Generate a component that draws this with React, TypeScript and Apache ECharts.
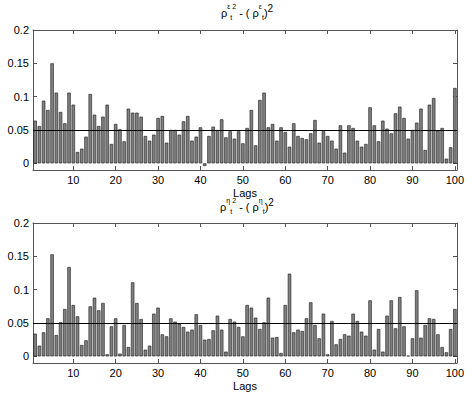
import React, { useEffect, useRef } from "react";
import * as echarts from "echarts";

const LAGS: string[] = Array.from({ length: 100 }, (_, i) => String(i + 1));
const X_TICKS: number[] = [10, 20, 30, 40, 50, 60, 70, 80, 90, 100];
const Y_TICKS: number[] = [0, 0.05, 0.1, 0.15, 0.2];
const THRESHOLD = 0.05;

const EPS_VALUES: number[] = [
  0.064, 0.056, 0.094, 0.080, 0.150, 0.106, 0.077, 0.060, 0.106, 0.088,
  0.017, 0.022, 0.040, 0.104, 0.073, 0.056, 0.070, 0.088, 0.029, 0.059,
  0.051, 0.033, 0.082, 0.076, 0.076, 0.070, 0.041, 0.034, 0.043, 0.068,
  0.071, 0.031, 0.050, 0.050, 0.043, 0.063, 0.071, 0.034, 0.040, 0.054,
  -0.004, 0.041, 0.055, 0.050, 0.066, 0.039, 0.048, 0.037, 0.048, 0.030,
  0.053, 0.080, 0.027, 0.095, 0.106, 0.054, 0.059, 0.034, 0.054, 0.047,
  0.025, 0.060, 0.041, 0.038, 0.036, 0.045, 0.065, 0.031, 0.048, 0.041,
  0.034, 0.022, 0.057, 0.016, 0.057, 0.053, 0.034, 0.025, 0.029, 0.084,
  0.057, 0.033, 0.064, 0.052, 0.045, 0.075, 0.085, 0.068, 0.037, 0.050,
  0.061, 0.082, 0.020, 0.088, 0.098, 0.049, 0.053, 0.007, 0.024, 0.113,
];

const ETA_VALUES: number[] = [
  0.034, 0.016, 0.036, 0.057, 0.153, 0.032, 0.051, 0.071, 0.134, 0.077,
  0.060, 0.017, 0.024, 0.075, 0.088, 0.069, 0.080, 0.003, 0.045, 0.057,
  0.004, 0.047, 0.014, 0.111, 0.080, 0.056, 0.010, 0.016, 0.064, 0.073,
  0.033, 0.030, 0.057, 0.052, 0.049, 0.044, 0.037, 0.040, 0.063, 0.047,
  0.025, 0.026, 0.039, 0.061, 0.040, 0.007, 0.056, 0.052, 0.044, 0.030,
  0.077, 0.073, 0.058, 0.041, 0.051, 0.088, 0.028, 0.029, 0.005, 0.077,
  0.124, 0.036, 0.040, 0.038, 0.057, 0.081, 0.047, 0.027, 0.064, 0.003,
  0.053, 0.018, 0.026, 0.033, 0.031, 0.064, 0.053, 0.037, 0.031, 0.084,
  0.010, 0.041, 0.007, 0.061, 0.084, 0.042, 0.089, 0.045, 0.001, 0.027,
  0.099, 0.028, 0.047, 0.057, 0.056, 0.033, 0.014, 0.006, 0.041, 0.071,
];

const FONT = "'Liberation Sans', Arial, Helvetica, sans-serif";
const AXIS_COLOR = "#555";

const isTick = (_idx: number, value: string) => X_TICKS.includes(Number(value));

function xAxes(gridIndex: number) {
  return [
    {
      type: "category",
      gridIndex,
      position: "bottom",
      data: LAGS,
      boundaryGap: true,
      name: "Lags",
      nameLocation: "middle",
      nameGap: 17,
      nameTextStyle: { color: "#000", fontSize: 11, fontFamily: FONT },
      axisLine: { show: true, onZero: false, lineStyle: { color: AXIS_COLOR, width: 1 } },
      axisTick: { show: true, inside: true, length: 4, alignWithLabel: true, interval: isTick, lineStyle: { color: AXIS_COLOR } },
      axisLabel: { show: true, interval: isTick, margin: 4, color: "#000", fontSize: 11, fontFamily: FONT },
      splitLine: { show: false },
    },
    {
      type: "category",
      gridIndex,
      position: "top",
      data: LAGS,
      boundaryGap: true,
      axisLine: { show: true, onZero: false, lineStyle: { color: AXIS_COLOR, width: 1 } },
      axisTick: { show: true, inside: true, length: 4, alignWithLabel: true, interval: isTick, lineStyle: { color: AXIS_COLOR } },
      axisLabel: { show: false },
      splitLine: { show: false },
    },
  ];
}

function yAxes(gridIndex: number) {
  const common = {
    type: "value",
    gridIndex,
    min: -0.01,
    max: 0.2,
    axisLine: { show: true, onZero: false, lineStyle: { color: AXIS_COLOR, width: 1 } },
    splitLine: { show: false },
  };
  return [
    {
      ...common,
      position: "left",
      axisTick: { show: true, inside: true, length: 4, customValues: Y_TICKS, lineStyle: { color: AXIS_COLOR } },
      axisLabel: {
        show: true,
        customValues: Y_TICKS,
        margin: 4,
        color: "#000",
        fontSize: 11,
        fontFamily: FONT,
        formatter: (v: number) => String(v),
      },
    },
    {
      ...common,
      position: "right",
      axisTick: { show: true, inside: true, length: 4, customValues: Y_TICKS, lineStyle: { color: AXIS_COLOR } },
      axisLabel: { show: false },
    },
  ];
}

function barSeries(data: number[], axisOffset: number) {
  return {
    type: "bar",
    xAxisIndex: axisOffset,
    yAxisIndex: axisOffset,
    data,
    barWidth: "80%",
    itemStyle: { color: "#808080", borderColor: "#1a1a1a", borderWidth: 0.6 },
    silent: true,
    markLine: {
      silent: true,
      symbol: ["none", "none"],
      label: { show: false },
      lineStyle: { color: "#000", width: 1, type: "solid" },
      data: [{ yAxis: THRESHOLD }],
    },
  };
}

const RICH = {
  m: { fontSize: 11, lineHeight: 20, verticalAlign: "middle", fontFamily: FONT, color: "#000" },
  sp: { fontSize: 7, lineHeight: 9, verticalAlign: "top", fontFamily: FONT, color: "#000" },
  sp2: { fontSize: 7, lineHeight: 7, verticalAlign: "top", fontFamily: FONT, color: "#000" },
  sb: { fontSize: 7, lineHeight: 8, verticalAlign: "bottom", fontFamily: FONT, color: "#000", padding: [0, 0, 2, 0] },
  p: { fontSize: 10, lineHeight: 14, verticalAlign: "top", fontFamily: FONT, color: "#000" },
};

function titleText(sym: string) {
  return `{m|ρ}{sp|${sym}}{sb|t}{sp2|2}{m| - ( ρ}{sp|${sym}}{sb|t}{m|)}{p|2}`;
}

export default function App() {
  const ref = useRef<HTMLDivElement>(null);

  useEffect(() => {
    if (!ref.current) return;
    const chart = echarts.init(ref.current, null, { renderer: "svg" });
    chart.setOption({
      animation: false,
      backgroundColor: "#fff",
      grid: [
        { left: 33, right: 17, top: 30, height: 140 },
        { left: 33, right: 17, top: 223, height: 140 },
      ],
      xAxis: [...xAxes(0), ...xAxes(1)],
      yAxis: [...yAxes(0), ...yAxes(1)],
      series: [barSeries(EPS_VALUES, 0), barSeries(ETA_VALUES, 2)],
      graphic: [
        {
          type: "text",
          x: 247,
          y: 3,
          style: { text: titleText("ε"), rich: RICH, align: "center", verticalAlign: "top", fontFamily: FONT },
        },
        {
          type: "text",
          x: 247,
          y: 197,
          style: { text: titleText("η"), rich: RICH, align: "center", verticalAlign: "top", fontFamily: FONT },
        },
      ],
    });
    return () => chart.dispose();
  }, []);

  return (
    <div
      ref={ref}
      style={{ position: "fixed", left: 0, top: 0, width: 474, height: 397, background: "#fff" }}
    />
  );
}
